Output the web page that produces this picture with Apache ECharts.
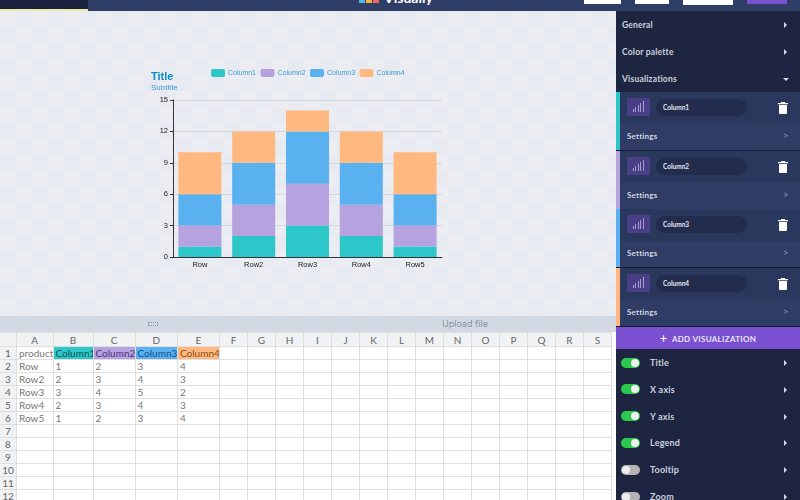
<!DOCTYPE html>
<html>
<head>
<meta charset="utf-8">
<script src="https://cdn.jsdelivr.net/npm/echarts@6/dist/echarts.min.js"></script>
<style>
html,body{margin:0;padding:0;width:800px;height:500px;overflow:hidden;background:#fff;font-family:Lato,"Open Sans",sans-serif}
div{box-sizing:border-box}
.abs,.abs div{position:absolute}
#topbar{left:0;top:0;width:800px;height:11px;background:#2f3e66;overflow:hidden}
#stage{left:0;top:11px;width:616px;height:305px;background-color:#ebedf2;
 background-image:conic-gradient(#e7eaf0 25%,transparent 0 50%,#e7eaf0 0 75%,transparent 0);background-size:32px 32px}
#chart{position:absolute;left:0;top:0;width:616px;height:316px}
#upload{left:0;top:316px;width:616px;height:16px;background:#d3d9e2;color:#8a909c;font:9px Inter,sans-serif;line-height:16px}
#sheet{position:absolute;left:-1px;top:332px;border-collapse:collapse;table-layout:fixed;width:612px;font:10px Lato,sans-serif;color:#777;background:#fff}
#sheet td{border:1px solid #dfdfdf;height:12.85px;padding:0 0 0 2px;white-space:nowrap;overflow:hidden;box-sizing:border-box;line-height:12px}
#sheet td.h{background:#f1f2f4;text-align:center;padding:0;color:#666}
#sheet tr:first-child td{height:14px}
#side{left:616px;top:11px;width:184px;height:489px;background:#1d2540;color:#ccd1de;font-size:8.5px;font-weight:700}
.lab{white-space:nowrap;letter-spacing:.2px}
.arrow{width:0;height:0;border-left:3px solid #d5d9e4;border-top:3px solid transparent;border-bottom:3px solid transparent}
.card{left:0;width:184px;height:58px;background:#2f3d64}
.card .top{left:4px;top:0;width:180px;height:32px;background:#2b385d}
.card .pill{left:40px;top:7px;width:91px;height:17px;border-radius:9px;background:#222c4c;color:#e4e7ef;font-size:6.5px;line-height:17px;padding-left:7px}
.card .ico{left:11px;top:6px;width:23px;height:18px;background:#483f86}
.card .ico div{bottom:4px;width:1px;background:#a39cd0}
</style>
</head>
<body>
<div class="abs" id="topbar"></div>
<div class="abs" id="stage"></div>
<div id="chart"></div>
<div class="abs" id="upload"></div>
<table id="sheet"></table>
<div class="abs" id="side"></div>
<script>
var categories=['Row','Row2','Row3','Row4','Row5'];
var seriesNames=['Column1','Column2','Column3','Column4'];
var column1=[1,2,3,2,1];
var column2=[2,3,4,3,2];
var column3=[3,4,5,4,3];
var column4=[4,3,2,3,4];
var seriesValues=[column1,column2,column3,column4];
var yTickStep=3;
var yMax=15;
var palette=['#2ec7c9','#b6a2de','#5ab1ef','#ffb980'];
var darkText=['#0b5254','#4a3480','#0f4f8c','#8a4d14'];
var sheetLetters=['A','B','C','D','E','F','G','H','I','J','K','L','M','N','O','P','Q','R','S'];
var sheetRows=12;
var menuTop=['General','Color palette','Visualizations'];
var menuBottom=['Title','X axis','Y axis','Legend','Tooltip','Zoom'];
var menuOn=[true,true,true,true,false,false];

/*top bar*/
var topbar=document.getElementById('topbar');
function box(parent,css,text,cls){
	var d=document.createElement('div');
	d.style.cssText=css;
	if(cls) d.className=cls;
	if(text) d.textContent=text;
	parent.appendChild(d);
	return d;
}
box(topbar,'left:0;top:0;width:88px;height:9px;background:#1b2340');
box(topbar,'left:0;top:9px;width:88px;height:2px;background:#f4e6a6');
box(topbar,'left:359px;top:-2px;width:6px;height:5px;background:#55b6e6');
box(topbar,'left:366px;top:-2px;width:6px;height:5px;background:#f5b63f');
box(topbar,'left:373px;top:-2px;width:6px;height:5px;background:#ef6a5a');
box(topbar,'left:384px;top:-10px;color:#fff;font:700 14px Lato,sans-serif;line-height:16px','Visually');
box(topbar,'left:584px;top:0;width:37px;height:4px;background:#fff');
box(topbar,'left:635px;top:0;width:34px;height:4px;background:#fff');
box(topbar,'left:683px;top:0;width:50px;height:5px;background:#fff');
box(topbar,'left:747px;top:0;width:40px;height:4px;background:#7a4fd0');

/*upload bar*/
var upload=document.getElementById('upload');
box(upload,'left:442px;top:0','Upload file');
box(upload,'left:148px;top:6px;width:10px;height:4px;border:1px dotted #8a909c');

/*spreadsheet*/
var widths=[17,36.5,40,42,42.5,42];
var sheet=document.getElementById('sheet');
var html='<colgroup>';
widths.forEach(function(w){html+='<col style="width:'+w+'px">'});
for(var c=5;c<sheetLetters.length;c++) html+='<col style="width:28px">';
html+='</colgroup><tr><td class="h"></td>';
sheetLetters.forEach(function(l){html+='<td class="h">'+l+'</td>'});
html+='</tr>';
for(var r=0;r<sheetRows;r++){
	html+='<tr><td class="h">'+(r+1)+'</td>';
	for(var k=0;k<sheetLetters.length;k++){
		var val='',st='';
		if(r===0&&k===0) val='product';
		if(r===0&&k>=1&&k<=4){val=seriesNames[k-1];st=' style="background:'+palette[k-1]+';color:'+darkText[k-1]+'"';}
		if(r>=1&&r<=categories.length){
			if(k===0) val=categories[r-1];
			if(k>=1&&k<=4) val=seriesValues[k-1][r-1];
		}
		html+='<td'+st+'>'+val+'</td>';
	}
	html+='</tr>';
}
sheet.innerHTML=html;

/*side panel*/
var side=document.getElementById('side');
menuTop.forEach(function(m,i){
	var y=9+i*27;
	box(side,'left:6px;top:'+y+'px',m,'lab');
	if(i<2) box(side,'left:168px;top:'+(y+2)+'px',null,'arrow');
	else box(side,'left:167px;top:'+(y+4)+'px;width:0;height:0;border-top:3px solid #d5d9e4;border-left:3px solid transparent;border-right:3px solid transparent');
});
var trash='<svg width="10" height="13" viewBox="0 0 10 13"><path fill="#fff" d="M0 2h3V1h4v1h3v1.2H0zM1 4h8v8a1 1 0 0 1-1 1H2a1 1 0 0 1-1-1z"/></svg>';
seriesNames.forEach(function(name,i){
	var y=81+i*58.7;
	var card=box(side,'top:'+y+'px',null,'card');
	box(card,'left:0;top:0;width:4px;height:58px;background:'+palette[i]);
	box(card,'',null,'top');
	var ico=box(card,'',null,'ico');
	[3,5,7,9,11].forEach(function(h,j){box(ico,'left:'+(6+j*2.4)+'px;height:'+h+'px')});
	box(card,'',name,'pill');
	box(card,'left:162px;top:9px').innerHTML=trash;
	box(card,'left:11px;top:39px;color:#cfd4e2;font-size:8px',"Settings",'lab');
	box(card,'left:167px;top:38px;color:#8f98b2;font-size:9px;font-weight:400','>');
	box(side,'left:0;top:'+(y+58)+'px;width:184px;height:1px;background:#141a30');
});
var addBtn=box(side,'left:0;top:316px;width:184px;height:22px;background:#7a4fd0;color:#e9e4f8;text-align:center;line-height:22px;font-size:8px;letter-spacing:.3px');
addBtn.innerHTML='<span style="font-size:13px;font-weight:400;vertical-align:-1px;color:#fff">+</span>&nbsp; ADD VISUALIZATION';
menuBottom.forEach(function(m,i){
	var y=346+i*26.8;
	box(side,'left:34px;top:'+y+'px;font-size:9px',m,'lab');
	box(side,'left:168px;top:'+(y+3)+'px',null,'arrow');
	var on=menuOn[i];
	var sw=box(side,'left:5px;top:'+(y+0.5)+'px;width:19px;height:10px;border-radius:5px;background:'+(on?'#2bc94f':'#b4b4b4'));
	box(sw,'left:'+(on?10:1)+'px;top:1px;width:8px;height:8px;border-radius:4px;background:#eee');
});

/*stacked bar chart*/
var myChart=echarts.init(document.getElementById('chart'));
var option={
	title:{
		text:'Title',
		subtext:'Subtitle',
		left:146,
		top:66,
		itemGap:2,
		textStyle:{color:'#0a8ccf',fontSize:11,fontWeight:'bold',fontFamily:'Liberation Sans'},
		subtextStyle:{color:'#3d9ad6',fontSize:8,fontFamily:'Liberation Sans'}
	},
	legend:{
		left:206,
		top:64,
		itemWidth:14,
		itemHeight:8,
		itemGap:4.5,
		textStyle:{color:'#3d9ad6',fontSize:7,padding:[0,0,0,-2],fontFamily:'Liberation Sans'},
		data:seriesNames
	},
	grid:{left:173,right:174,top:100,bottom:59},
	xAxis:{
		type:'category',
		data:categories,
		axisLine:{lineStyle:{color:'#333',width:1}},
		axisTick:{length:3,lineStyle:{color:'#333'}},
		axisLabel:{color:'#222',fontSize:7.5,margin:4,fontFamily:'Liberation Sans'}
	},
	yAxis:{
		type:'value',
		min:0,
		max:yMax,
		interval:yTickStep,
		axisLine:{show:true,lineStyle:{color:'#333',width:1}},
		axisTick:{show:true,length:3,lineStyle:{color:'#333'}},
		axisLabel:{color:'#222',fontSize:7.5,margin:5,fontFamily:'Liberation Sans'},
		splitLine:{lineStyle:{color:'#d2d5da',width:1}}
	},
	series:seriesNames.map(function(name,i){
		return {
			name:name,
			type:'bar',
			stack:'total',
			barWidth:'80%',
			itemStyle:{color:palette[i]},
			data:seriesValues[i]
		};
	}),
	animation:false
};
myChart.setOption(option);
</script>
</body>
</html>
